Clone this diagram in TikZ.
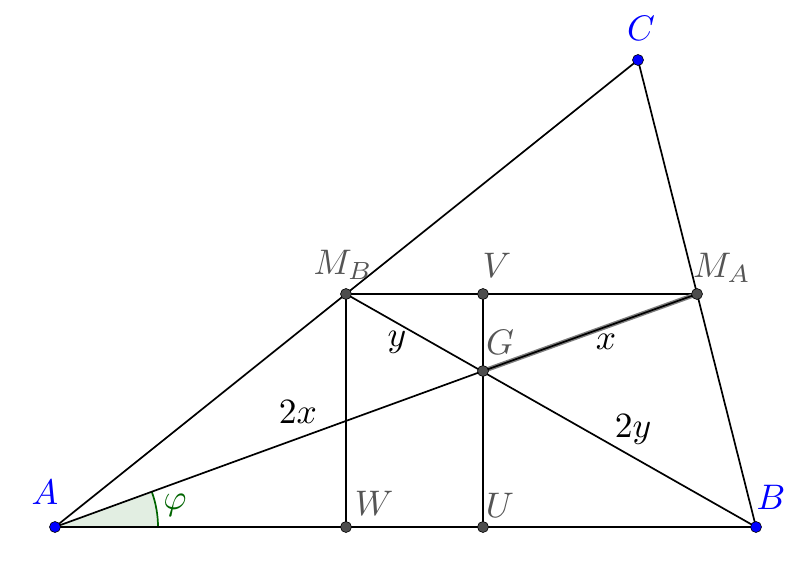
\documentclass[tikz,border=0pt]{standalone}
\usepackage{amsmath}
\definecolor{ptblue}{RGB}{0,0,255}
\definecolor{ptgray}{RGB}{77,77,77}
\definecolor{labgray}{RGB}{85,85,85}
\definecolor{anggreen}{RGB}{0,100,0}
\definecolor{angfill}{RGB}{226,238,226}
\tikzset{
  freept/.style={circle,fill=ptblue,draw=black,line width=0.6pt,inner sep=0pt,minimum size=11pt},
  fixpt/.style={circle,fill=ptgray,draw=black,line width=0.6pt,inner sep=0pt,minimum size=11pt},
  bluelab/.style={text=ptblue,scale=3.55},
  graylab/.style={text=labgray,scale=3.55},
  seglab/.style={text=black,scale=3.55},
}
\begin{document}
\begin{tikzpicture}[x=1pt,y=-1pt,line width=1.7pt]
      \useasboundingbox (0,0) rectangle (800,578);
      % angle at A
      \fill[angfill] (55,527) -- (158,527) arc[start angle=0,end angle=-20,radius=103] -- cycle;
      \draw[anggreen] (158,527) arc[start angle=0,end angle=-20,radius=103];
      \path
        (55,527) coordinate (A)
        (756,527) coordinate (B)
        (638,60) coordinate (C)
        (346,294) coordinate (MB)
        (697,294) coordinate (MA)
        (483,371) coordinate (G)
        (483,294) coordinate (V)
        (483,527) coordinate (U)
        (346,527) coordinate (W);
      \begin{scope}[-]
        \draw (A) to (B);
        \draw (B) to (C);
        \draw (C) to (A);
        \draw (MB) to (MA);
        \draw (A) to (G);
        \draw (MB) to (B);
        \draw (MB) to (W);
        \draw (V) to (U);
        \draw[gray,line width=4.5pt] (G) to (MA);
        \draw (G) to (MA);
      \end{scope}
      \node[freept] at (A) {};
      \node[freept] at (B) {};
      \node[freept] at (C) {};
      \node[fixpt] at (MB) {};
      \node[fixpt] at (MA) {};
      \node[fixpt] at (G) {};
      \node[fixpt] at (V) {};
      \node[fixpt] at (U) {};
      \node[fixpt] at (W) {};
      \draw
        (45,492) node[bluelab] (lA){$A$}
        (771,497) node[bluelab] (lB){$B$}
        (641,28) node[bluelab] (lC){$C$}
        (343,265) node[graylab] (lMB){$M_B$}
        (497,265) node[graylab] (lV){$V$}
        (722,268) node[graylab] (lMA){$M_A$}
        (500,342) node[graylab] (lG){$G$}
        (374,503) node[graylab] (lW){$W$}
        (500,505) node[graylab] (lU){$U$}
        (397,342) node[seglab] (ly){$y$}
        (606,342) node[seglab] (lx){$x$}
        (298,412) node[seglab] (l2x){$2x$}
        (633,430) node[seglab] (l2y){$2y$}
        (175,505) node[seglab,text=anggreen] (lphi){$\varphi$};
    \end{tikzpicture}
\end{document}
